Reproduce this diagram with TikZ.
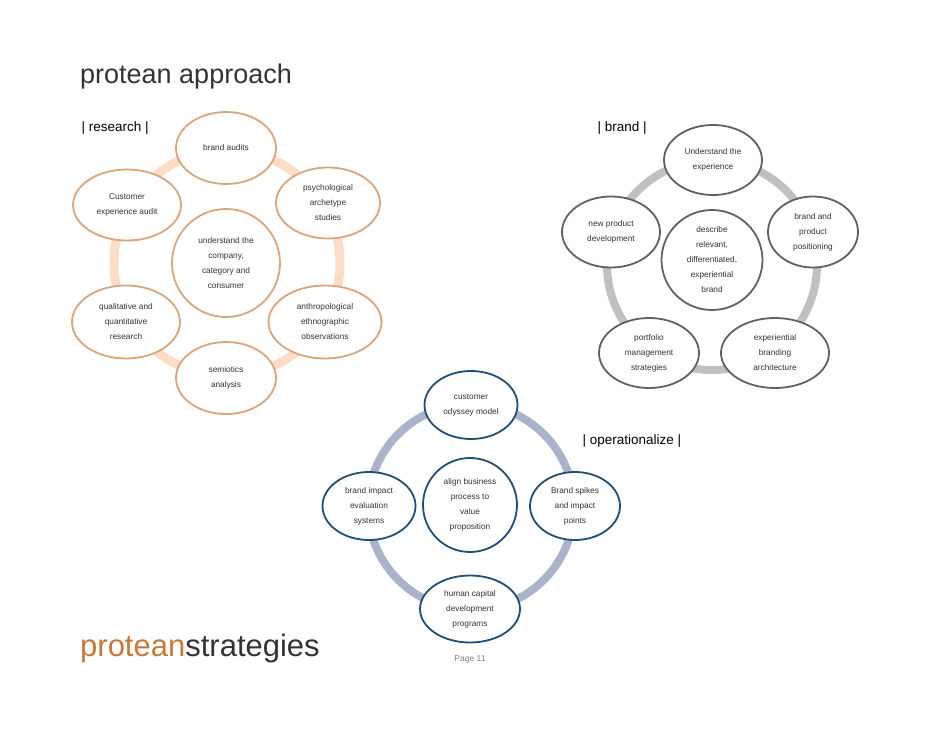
\documentclass[tikz,border=0pt]{standalone}
\usepackage{fontspec}
\setmainfont{Liberation Sans}
\usetikzlibrary{shapes.geometric}
\definecolor{peach}{HTML}{FBDCC6}
\definecolor{tan}{HTML}{D9A57C}
\definecolor{lgray}{HTML}{C0C0C0}
\definecolor{dgray}{HTML}{616161}
\definecolor{lblue}{HTML}{A9B4CB}
\definecolor{dblue}{HTML}{1F4E79}
\definecolor{txt}{HTML}{333333}
\definecolor{orng}{HTML}{C8793A}
\begin{document}
\begin{tikzpicture}[x=1pt,y=-1pt,
  el/.style={ellipse,draw,fill=white,line width=1.8pt,inner sep=0pt,align=center,font=\fontsize{8.3}{15}\selectfont,text=txt},
  rs/.style={el,draw=tan},
  bs/.style={el,draw=dgray},
  os/.style={el,draw=dblue},
  lab/.style={anchor=west,font=\fontsize{13.5}{15}\selectfont,text=black}]
\useasboundingbox (0,0) rectangle (942,728);
\node[anchor=west,inner sep=0pt,font=\fontsize{27}{30}\selectfont,text=txt] (title) at (80,77) {protean approach};
% research
\coordinate (rc) at (227,263);
\draw[peach,line width=9pt] (rc) circle (113);
\node[lab] (rl) at (78,128) {| research |};
\node[rs,minimum width=100pt,minimum height=72pt] (r1) at (226,148) {brand audits};
\node[rs,minimum width=104pt,minimum height=71pt] (r2) at (328,203) {psychological\\archetype\\studies};
\node[rs,minimum width=108pt,minimum height=71pt] (r6) at (127,205) {Customer\\experience audit};
\node[rs,minimum width=108pt,minimum height=108pt] (r0) at (226,263) {understand the\\company,\\category and\\consumer};
\node[rs,minimum width=108pt,minimum height=73pt] (r5) at (126,322) {qualitative and\\quantitative\\research};
\node[rs,minimum width=113pt,minimum height=73pt] (r3) at (325,322) {anthropological\\ethnographic\\observations};
\node[rs,minimum width=100pt,minimum height=72pt] (r4) at (226,378) {semiotics\\analysis};
% brand
\coordinate (bc) at (712,265);
\draw[lgray,line width=8pt] (bc) circle (105);
\node[lab] (bl) at (594,128) {| brand |};
\node[bs,minimum width=98pt,minimum height=70pt] (b1) at (713,160) {Understand the\\experience};
\node[bs,minimum width=98pt,minimum height=71pt] (b5) at (611,232) {new product\\development};
\node[bs,minimum width=90pt,minimum height=71pt] (b2) at (813,232) {brand and\\product\\positioning};
\node[bs,minimum width=100pt,minimum height=70pt] (b4) at (649,353) {portfolio\\management\\strategies};
\node[bs,minimum width=108pt,minimum height=70pt] (b3) at (775,353) {experiential\\branding\\architecture};
\node[bs,minimum width=101pt,minimum height=100pt] (b0) at (712,260) {describe\\relevant,\\differentiated,\\experiential\\brand};
% operationalize
\coordinate (oc) at (471,507);
\draw[lblue,line width=8pt] (oc) circle (103);
\node[lab] (ol) at (579,441) {| operationalize |};
\node[os,minimum width=93pt,minimum height=68pt] (o1) at (471,405) {customer\\odyssey model};
\node[os,minimum width=93pt,minimum height=68pt] (o4) at (369,506) {brand impact\\evaluation\\systems};
\node[os,minimum width=90pt,minimum height=68pt] (o2) at (575,506) {Brand spikes\\and impact\\points};
\node[os,minimum width=100pt,minimum height=67pt] (o3) at (470,609) {human capital\\development\\programs};
\node[os,minimum width=94pt,minimum height=94pt] (o0) at (470,505) {align business\\process to\\value\\proposition};
% footer
\node[anchor=west,inner sep=0pt,font=\fontsize{31}{34}\selectfont] (logo) at (80,648) {\textcolor{orng}{protean}\textcolor{txt}{strategies}};
\node[font=\fontsize{8.5}{10}\selectfont,text=gray] (pg) at (470,659) {Page 11};
\end{tikzpicture}
\end{document}
